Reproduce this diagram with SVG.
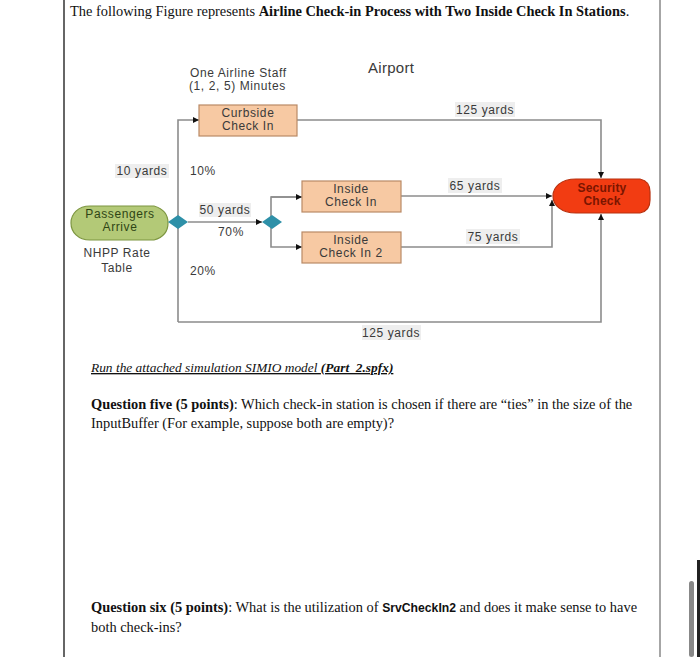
<svg xmlns="http://www.w3.org/2000/svg" width="700" height="657" viewBox="0 0 700 657">
<style>
.serif{font-family:"Liberation Serif","Times New Roman",serif;font-size:14.4px;fill:#111}
.b{font-weight:bold}
.lbl{font-family:"Liberation Sans",Arial,sans-serif;font-size:12px;letter-spacing:0.6px;fill:#3a3a3a}
.mid{text-anchor:middle}
.box{fill:#f7c9a3;stroke:#b98a66;stroke-width:1.2}
.conn{fill:none;stroke:#8c8c8c;stroke-width:1.6}
.lblbg{fill:#eeeeee}
.dia{fill:#2e90a8}
</style>
<defs>
<marker id="arr" viewBox="0 0 10 10" refX="10" refY="5" markerWidth="6" markerHeight="6" orient="auto" markerUnits="userSpaceOnUse">
<path d="M0,0 L10,5 L0,10 Z" fill="#111"/>
</marker>
</defs>
<rect width="700" height="657" fill="#ffffff"/>
<line x1="64" y1="0" x2="64" y2="657" stroke="#666" stroke-width="2"/>
<line x1="660" y1="0" x2="660" y2="657" stroke="#888" stroke-width="1.5"/>
<rect x="689" y="581" width="5" height="76" rx="2.5" fill="#888"/>
<rect x="697" y="560" width="3" height="97" fill="#222"/>

<text class="serif" x="70" y="16">The following Figure represents <tspan class="b">Airline Check-in Process with Two Inside Check In Stations</tspan>.</text>

<g id="connectors">
<polyline class="conn" points="178,322 178,120 199,120" marker-end="url(#arr)"/>
<polyline class="conn" points="297,120 601,120 601,178" marker-end="url(#arr)"/>
<polyline class="conn" points="188,222 262,222" marker-end="url(#arr)"/>
<polyline class="conn" points="302,197 271,197 271,247 302,247" marker-end="url(#arr)"/>
<line class="conn" x1="271" y1="197" x2="302" y2="197" marker-end="url(#arr)"/>
<polyline class="conn" points="401,196 552,196" marker-end="url(#arr)"/>
<polyline class="conn" points="401,247 552,247 552,200" marker-end="url(#arr)"/>
<polyline class="conn" points="178,322 601,322 601,214" marker-end="url(#arr)"/>
</g>

<g id="labels">
<text class="lbl" x="190" y="77">One Airline Staff</text>
<text class="lbl" x="189" y="90">(1, 2, 5) Minutes</text>
<text class="lbl" x="368" y="73" style="font-size:15px;letter-spacing:0.3px">Airport</text>
<rect class="lblbg" x="455" y="102" width="60" height="15"/>
<text class="lbl mid" x="485" y="114">125 yards</text>
<rect class="lblbg" x="115" y="164" width="54" height="14"/>
<text class="lbl mid" x="142" y="175">10 yards</text>
<text class="lbl" x="190" y="175">10%</text>
<rect class="lblbg" x="199" y="203" width="52" height="14"/>
<text class="lbl mid" x="225" y="214">50 yards</text>
<text class="lbl mid" x="231" y="236">70%</text>
<rect class="lblbg" x="448" y="178" width="54" height="15"/>
<text class="lbl mid" x="475" y="190">65 yards</text>
<rect class="lblbg" x="466" y="229" width="54" height="15"/>
<text class="lbl mid" x="493" y="241">75 yards</text>
<text class="lbl" x="190" y="275">20%</text>
<rect class="lblbg" x="362" y="325" width="59" height="15"/>
<text class="lbl mid" x="391" y="337">125 yards</text>
<text class="lbl mid" x="117" y="257">NHPP Rate</text>
<text class="lbl mid" x="117" y="272">Table</text>
</g>

<g id="curbside">
<rect class="box" x="199" y="105" width="98" height="31"/>
<text class="lbl mid" x="248" y="117">Curbside</text>
<text class="lbl mid" x="248" y="130">Check In</text>
</g>
<g id="inside1">
<rect class="box" x="302" y="181" width="99" height="31"/>
<text class="lbl mid" x="351" y="193">Inside</text>
<text class="lbl mid" x="351" y="206">Check In</text>
</g>
<g id="inside2">
<rect class="box" x="302" y="232" width="99" height="31"/>
<text class="lbl mid" x="351" y="244">Inside</text>
<text class="lbl mid" x="351" y="257">Check In 2</text>
</g>
<g id="passengers">
<path d="M90 206 L154 206 Q168 210 168 223 Q168 236 154 240 L90 240 C78 240 71 232 71 223 C71 214 78 206 90 206 Z" fill="#b3c977" stroke="#7d9640" stroke-width="1.2"/>
<text class="lbl mid" x="120" y="218" style="fill:#2f4515">Passengers</text>
<text class="lbl mid" x="120" y="231" style="fill:#2f4515">Arrive</text>
</g>
<g id="security">
<path d="M576 179 L640 179 Q650 181 650 192 L650 200 Q650 211 640 213 L576 213 C561 213 553 205 553 196 C553 187 561 179 576 179 Z" fill="#f23c12" stroke="#b8300e" stroke-width="1.2"/>
<text class="lbl mid" x="602" y="192" style="fill:#7a1500;font-weight:bold;letter-spacing:0.2px">Security</text>
<text class="lbl mid" x="602" y="205" style="fill:#7a1500;font-weight:bold;letter-spacing:0.2px">Check</text>
</g>
<g id="diamond1">
<path class="dia" d="M168 222 L178 215 L188 222 L178 229 Z"/>
</g>
<g id="diamond2">
<path class="dia" d="M262 222 L272 215 L282 222 L272 229 Z"/>
</g>

<text class="serif" x="91" y="372" style="font-size:13.4px;font-style:italic;text-decoration:underline">Run the attached simulation SIMIO model <tspan class="b">(Part_2.spfx)</tspan></text>
<text class="serif" x="91" y="409"><tspan class="b">Question five (5 points)</tspan>: Which check-in station is chosen if there are “ties” in the size of the</text>
<text class="serif" x="91" y="428">InputBuffer (For example, suppose both are empty)?</text>
<text class="serif" x="91" y="612"><tspan class="b">Question six (5 points)</tspan>: What is the utilization of <tspan class="b" style="font-family:'Liberation Sans',Arial,sans-serif;font-size:12.2px">SrvCheckIn2</tspan> and does it make sense to have</text>
<text class="serif" x="91" y="632">both check-ins?</text>
</svg>
